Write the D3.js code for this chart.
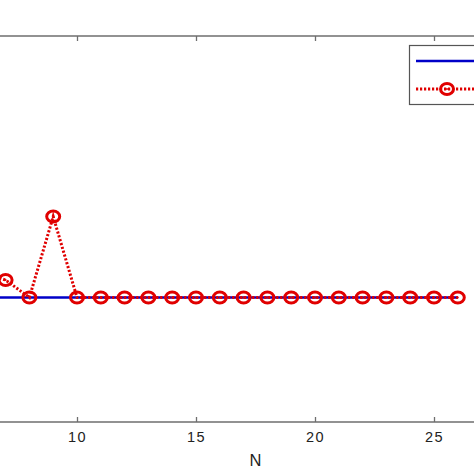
<!DOCTYPE html>
<html><head><meta charset="utf-8">
<script src="https://cdn.jsdelivr.net/npm/d3@7"></script>
<style>html,body{margin:0;padding:0;background:#fff;}svg{display:block;}</style>
</head><body>
<script>
const nValues = [1,2,3,4,5,6,7,8,9,10,11,12,13,14,15,16,17,18,19,20,21,22,23,24,25,26];
const baselineValues = nValues.map(() => 1);
const measuredValues = [1,1,1,1,1,1.2,1.14,1,1.65,1,1,1,1,1,1,1,1,1,1,1,1,1,1,1,1,1];
const xTicks = [10,15,20,25];
const xLabel = "N";

const W = 474, H = 474;
const svg = d3.select("body").append("svg").attr("width", W).attr("height", H);

const x = d3.scaleLinear().domain([10, 25]).range([77, 434]);
const y = d3.scaleLinear().domain([0, 3.1]).range([422, 36]);
const left = x(0), right = x(28);

const axisColor = "#6e6e6e";
svg.append("line").attr("x1", left).attr("x2", right).attr("y1", y.range()[1]).attr("y2", y.range()[1])
  .attr("stroke", axisColor).attr("stroke-width", 1.3);
const bottomAxis = d3.axisBottom(x).tickValues(xTicks).tickSize(-5).tickPadding(10).tickFormat(d3.format("d"));
const gb = svg.append("g").attr("transform", `translate(0,${y.range()[0]})`).call(bottomAxis);
gb.select(".domain").attr("d", `M${left},0H${right}`).attr("stroke", axisColor).attr("stroke-width", 1.3);
gb.selectAll(".tick line").attr("stroke", axisColor).attr("stroke-width", 1.3);
gb.selectAll(".tick text").attr("fill", "#222").style("font-family", "'Liberation Sans', Arial, sans-serif")
  .style("font-size", "14.5px").style("letter-spacing", "1.5px");
const topAxis = d3.axisTop(x).tickValues(xTicks).tickSize(-5).tickFormat("");
const gt = svg.append("g").attr("transform", `translate(0,${y.range()[1]})`).call(topAxis);
gt.select(".domain").remove();
gt.selectAll(".tick line").attr("stroke", axisColor).attr("stroke-width", 1.3);

svg.append("text").attr("x", x(17.5)).attr("y", 466).attr("text-anchor", "middle")
  .attr("fill", "#222").style("font-family", "'Liberation Sans', Arial, sans-serif").style("font-size", "16.5px").text(xLabel);

svg.append("clipPath").attr("id", "plotclip").append("rect")
  .attr("x", left).attr("y", 36).attr("width", right - left).attr("height", 386);
const plot = svg.append("g").attr("clip-path", "url(#plotclip)");

const line = d3.line().x((d, i) => x(nValues[i])).y(d => y(d));
plot.append("path").datum(baselineValues).attr("d", line).attr("fill", "none")
  .attr("stroke", "#0000c8").attr("stroke-width", 2.3);
plot.append("path").datum(measuredValues).attr("d", line).attr("fill", "none")
  .attr("stroke", "#e00000").attr("stroke-width", 3).attr("stroke-dasharray", "2.2,1.8");

function marker(g, cx, cy) {
  g.append("ellipse").attr("cx", cx).attr("cy", cy).attr("rx", 6.5).attr("ry", 5.5)
    .attr("fill", "none").attr("stroke", "#e00000").attr("stroke-width", 3);
  g.append("circle").attr("cx", cx).attr("cy", cy).attr("r", 1).attr("fill", "#e00000");
}
measuredValues.forEach((v, i) => marker(plot, x(nValues[i]), y(v)));

const lg = svg.append("g");
lg.append("rect").attr("x", 409.5).attr("y", 45.5).attr("width", 80).attr("height", 59)
  .attr("fill", "#fff").attr("stroke", "#555").attr("stroke-width", 1.2);
lg.append("line").attr("x1", 416).attr("x2", 480).attr("y1", 61).attr("y2", 61)
  .attr("stroke", "#0000c8").attr("stroke-width", 2.3);
lg.append("line").attr("x1", 416).attr("x2", 480).attr("y1", 89).attr("y2", 89)
  .attr("stroke", "#e00000").attr("stroke-width", 3).attr("stroke-dasharray", "2.2,1.8");
marker(lg, 447, 89);
</script>
</body></html>
